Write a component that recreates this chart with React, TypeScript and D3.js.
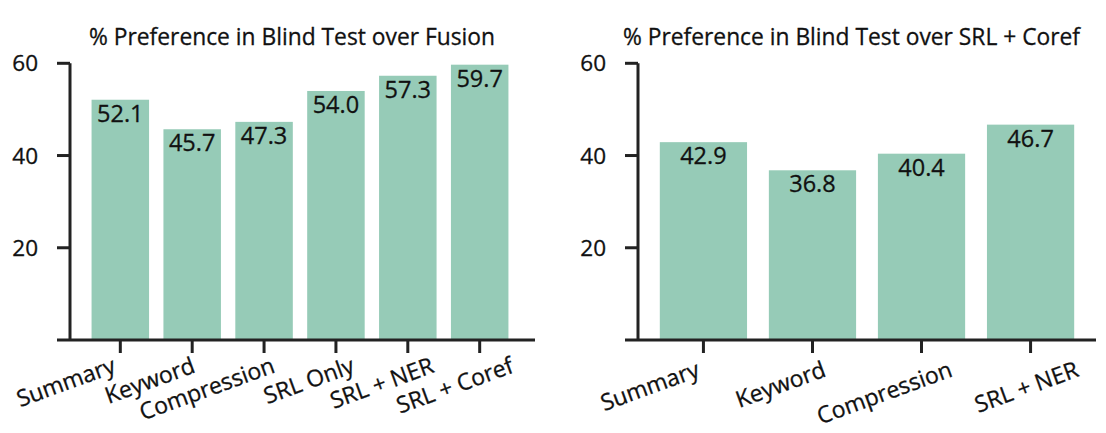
import React from 'react';
import * as d3 from 'd3';

const fusionCategories = ['Summary', 'Keyword', 'Compression', 'SRL Only', 'SRL + NER', 'SRL + Coref'];
const fusionValues = [52.1, 45.7, 47.3, 54.0, 57.3, 59.7];

const corefCategories = ['Summary', 'Keyword', 'Compression', 'SRL + NER'];
const corefValues = [42.9, 36.8, 40.4, 46.7];

const yTicks = [20, 40, 60];

const titles = ['% Preference in Blind Test over Fusion', '% Preference in Blind Test over SRL + Coref'];

const BAR = '#96cbb7';
const AXIS = '#222';
const INK = '#111';
const FONT = '"Open Sans", "Noto Sans", sans-serif';

interface PanelProps {
  title: string;
  titleX: number;
  titleWidth: number;
  categories: string[];
  values: number[];
  left: number;
  right: number;
  axisEnd: number;
  outer: number;
  labelRange: [number, number];
  labelY: number;
}

function Panel({ title, titleX, titleWidth, categories, values, left, right, axisEnd, outer, labelRange, labelY }: PanelProps) {
  const top = 63.3;
  const bottom = 340;

  const y = d3.scaleLinear().domain([0, 60]).range([bottom, top]);
  const x = d3.scaleBand<string>()
    .domain(categories)
    .range([left, right])
    .paddingInner(0.2)
    .paddingOuter(outer);
  // les étiquettes sont plus espacées que les barres dans l'original
  const lx = d3.scalePoint<string>().domain(categories).range(labelRange);

  return (
    <g fill={INK} stroke={INK} strokeWidth={0.3}>
      <text
        x={titleX}
        y={44.5}
        fontSize={24}
        textLength={titleWidth}
        lengthAdjust="spacingAndGlyphs"
      >
        {title}
      </text>

      {categories.map((c, i) => (
        <rect
          key={c}
          x={x(c)}
          y={y(values[i])}
          width={x.bandwidth()}
          height={bottom - y(values[i])}
          fill={BAR}
          stroke="none"
        />
      ))}

      {categories.map((c, i) => (
        <text
          key={c + '-v'}
          x={(x(c) || 0) + x.bandwidth() / 2}
          y={y(values[i]) + 22}
          textAnchor="middle"
          fontSize={23.5}
        >
          {values[i].toFixed(1)}
        </text>
      ))}

      {/* axes */}
      <line x1={left} x2={left} y1={top} y2={bottom} stroke={AXIS} strokeWidth={3} />
      <line x1={left - 13} x2={axisEnd} y1={bottom} y2={bottom} stroke={AXIS} strokeWidth={3} />

      {yTicks.map(t => (
        <g key={t}>
          <line x1={left - 13} x2={left} y1={y(t)} y2={y(t)} stroke={AXIS} strokeWidth={3} />
          <text
            x={left - 32}
            y={y(t) + 8}
            textAnchor="end"
            fontSize={22.5}
          >
            {t}
          </text>
        </g>
      ))}

      {categories.map(c => {
        const cx = (x(c) || 0) + x.bandwidth() / 2;
        return (
          <g key={c + '-t'}>
            <line x1={cx} x2={cx} y1={bottom} y2={bottom + 13} stroke={AXIS} strokeWidth={3} />
            <text
              transform={`translate(${lx(c)},${labelY}) rotate(-20)`}
              textAnchor="end"
              fontSize={23}
            >
              {c}
            </text>
          </g>
        );
      })}
    </g>
  );
}

export default function App() {
  return (
    <div style={{ position: 'absolute', left: 0, top: 0 }}>
      <svg width={1106} height={433} style={{ display: 'block', fontFamily: FONT, background: '#fff' }}>
        <Panel
          title={titles[0]}
          titleX={89}
          titleWidth={406}
          categories={fusionCategories}
          values={fusionValues}
          left={70}
          right={530}
          axisEnd={535}
          outer={0.3}
          labelRange={[117, 515]}
          labelY={372}
        />
        <Panel
          title={titles[1]}
          titleX={623}
          titleWidth={457}
          categories={corefCategories}
          values={corefValues}
          left={638}
          right={1096}
          axisEnd={1096}
          outer={0.2}
          labelRange={[701, 1080]}
          labelY={376}
        />
      </svg>
    </div>
  );
}
